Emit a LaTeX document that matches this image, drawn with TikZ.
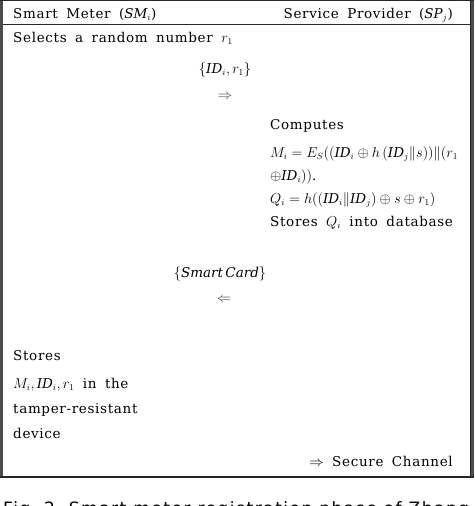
\documentclass[tikz,border=0pt]{standalone}
\usepackage{fontspec}
\setmainfont[LetterSpace=5,WordSpace=1.7]{DejaVu Serif}
\setsansfont[LetterSpace=9]{DejaVu Sans}
\begin{document}
\begin{tikzpicture}[x=1pt,y=-1pt,
  txt/.style={inner sep=0pt,anchor=base west,font=\fontsize{13.5}{16}\selectfont},
  txtr/.style={inner sep=0pt,anchor=base east,font=\fontsize{13.5}{16}\selectfont},
  msg/.style={inner sep=0pt,anchor=base,font=\fontsize{13.5}{16}\selectfont},
  arr/.style={inner sep=0pt,anchor=center,font=\fontsize{13.5}{16}\selectfont,text=black!75}]
\useasboundingbox (0,0) rectangle (474,506);
% frame
\fill[black!70] (0,0) rectangle (3,477);
\fill[black!70] (471,0) rectangle (474,477);
\draw[line width=1pt,black!85] (0,0.5) -- (474,0.5);
\draw[line width=1.5pt,black!85] (0,477) -- (474,477);
\draw[line width=1.2pt,black!85] (3,24.5) -- (471,24.5);
\draw[line width=0.8pt,black!85] (470.5,0) -- (470.5,477);
% header
\node[txt] (sm) at (13,18) {Smart Meter ($\mathit{SM}_i$)};
\node[txtr] (sp) at (453,18) {Service Provider ($\mathit{SP}_j$)};
% steps
\node[txt] (sel) at (13,42) {Selects a random number $r_1$};
\node[msg] (m1) at (225,73) {$\{\mathit{ID}_i, r_1\}$};
\node[arr] (a1) at (225,97) {$\Rightarrow$};
\node[txt] (cmp) at (270,129) {Computes};
\node[txt] (mi) at (270,157) {$M_i = E_S((\mathit{ID}_i\oplus h\,(\mathit{ID}_j\|s))\|(r_1$};
\node[txt] (mi2) at (270,180) {$\oplus \mathit{ID}_i))$.};
\node[txt] (qi) at (270,203) {$Q_i = h((\mathit{ID}_i\|\mathit{ID}_j)\oplus s\oplus r_1)$};
\node[txt] (st) at (270,226) {Stores $Q_i$ into database};
\node[msg] (m2) at (220,277) {$\{\mathit{Smart\,Card}\}$};
\node[arr] (a2) at (224,300) {$\Leftarrow$};
\node[txt] (s1) at (13,360) {Stores};
\node[txt] (s2) at (13,388) {$M_i,\mathit{ID}_i,r_1$ in the};
\node[txt] (s3) at (13,413) {tamper-resistant};
\node[txt] (s4) at (13,438) {device};
\node[txtr] (sc) at (453,466) {$\Rightarrow$ Secure Channel};
% clipped caption
\begin{scope}
\clip (0,490) rectangle (474,506);
\node[inner sep=0pt,anchor=base west,font=\sffamily\fontsize{17}{20}\selectfont] (cap) at (3,514) {Fig.\ 2.\ Smart meter registration phase of Zhang};
\end{scope}
\end{tikzpicture}
\end{document}
